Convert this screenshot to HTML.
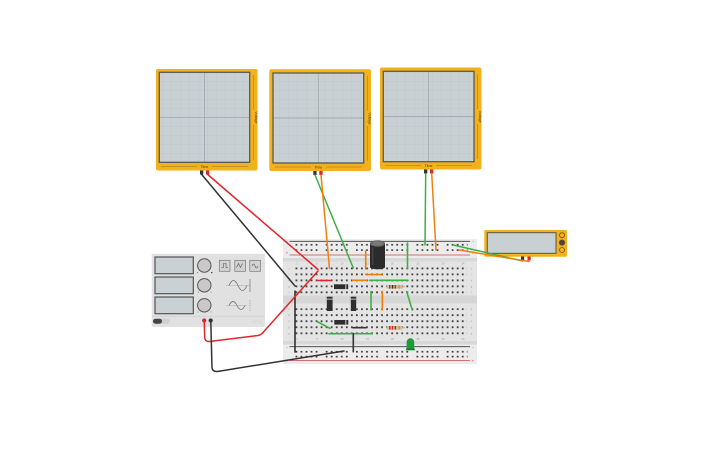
<!DOCTYPE html>
<html><head><meta charset="utf-8"><style>
html,body{margin:0;padding:0;background:#fff;}
svg{display:block;}
</style></head><body>
<svg width="725" height="453" viewBox="0 0 725 453" xmlns="http://www.w3.org/2000/svg" font-family="Liberation Sans, sans-serif">
<defs>
<pattern id="grid" patternUnits="userSpaceOnUse" width="9" height="9">
<path d="M0,0 H9 M0,0 V9" stroke="#b7c0c4" stroke-width="0.5" fill="none"/>
</pattern>
<pattern id="h1" patternUnits="userSpaceOnUse" x="295.5" y="267.5" width="5.04" height="5.98">
<rect x="0" y="0" width="1.8" height="1.8" fill="#3c3c3c"/>
</pattern>
<pattern id="h2" patternUnits="userSpaceOnUse" x="295.5" y="308.2" width="5.04" height="6.05">
<rect x="0" y="0" width="1.8" height="1.8" fill="#3c3c3c"/>
</pattern>
<pattern id="r1" patternUnits="userSpaceOnUse" x="295.5" y="243.8" width="30.24" height="5.5">
<rect x="0" y="0" width="1.8" height="1.8" fill="#3c3c3c"/>
<rect x="5.04" y="0" width="1.8" height="1.8" fill="#3c3c3c"/>
<rect x="10.08" y="0" width="1.8" height="1.8" fill="#3c3c3c"/>
<rect x="15.12" y="0" width="1.8" height="1.8" fill="#3c3c3c"/>
<rect x="20.16" y="0" width="1.8" height="1.8" fill="#3c3c3c"/>
</pattern>
<pattern id="r2" patternUnits="userSpaceOnUse" x="295.5" y="350.8" width="30.24" height="5.0">
<rect x="0" y="0" width="1.8" height="1.8" fill="#3c3c3c"/>
<rect x="5.04" y="0" width="1.8" height="1.8" fill="#3c3c3c"/>
<rect x="10.08" y="0" width="1.8" height="1.8" fill="#3c3c3c"/>
<rect x="15.12" y="0" width="1.8" height="1.8" fill="#3c3c3c"/>
<rect x="20.16" y="0" width="1.8" height="1.8" fill="#3c3c3c"/>
</pattern>
</defs>

<!-- ===== Oscilloscope 1 ===== -->
<rect x="156" y="69" width="101.5" height="101.5" rx="2" fill="#f3b11b"/>
<rect x="159.3" y="72.3" width="90.4" height="90" fill="#c9d0d3"/>
<rect x="159.3" y="72.3" width="90.4" height="90" fill="url(#grid)"/>
<line x1="204.5" y1="72.3" x2="204.5" y2="162.3" stroke="#99a3a7" stroke-width="0.7"/>
<line x1="159.3" y1="117.3" x2="249.7" y2="117.3" stroke="#99a3a7" stroke-width="0.7"/>
<rect x="159.3" y="72.3" width="90.4" height="90" fill="none" stroke="#595959" stroke-width="1.3"/>
<line x1="253.5" y1="75" x2="253.5" y2="110" stroke="#9c7416" stroke-width="0.5"/>
<line x1="253.5" y1="125" x2="253.5" y2="160" stroke="#9c7416" stroke-width="0.5"/>
<text x="254.8" y="117.5" font-size="3.6" fill="#4a3a10" text-anchor="middle" transform="rotate(90 254.8 117.5)">Voltage</text>
<line x1="161" y1="166.5" x2="197" y2="166.5" stroke="#9c7416" stroke-width="0.5"/>
<line x1="212" y1="166.5" x2="248" y2="166.5" stroke="#9c7416" stroke-width="0.5"/>
<text x="204.5" y="167.8" font-size="3.6" fill="#4a3a10" text-anchor="middle">Time</text>
<rect x="200" y="170.5" width="3.3" height="4" fill="#333"/>
<rect x="206" y="170.5" width="3.3" height="4" fill="#d62a2a"/>

<!-- ===== Oscilloscope 2 ===== -->
<rect x="269.3" y="69.3" width="101.7" height="101.7" rx="2" fill="#f3b11b"/>
<rect x="273" y="73" width="90.7" height="90" fill="#c9d0d3"/>
<rect x="273" y="73" width="90.7" height="90" fill="url(#grid)"/>
<line x1="318.3" y1="73" x2="318.3" y2="163" stroke="#99a3a7" stroke-width="0.7"/>
<line x1="273" y1="118" x2="363.7" y2="118" stroke="#99a3a7" stroke-width="0.7"/>
<rect x="273" y="73" width="90.7" height="90" fill="none" stroke="#595959" stroke-width="1.3"/>
<line x1="367.3" y1="76" x2="367.3" y2="111" stroke="#9c7416" stroke-width="0.5"/>
<line x1="367.3" y1="126" x2="367.3" y2="161" stroke="#9c7416" stroke-width="0.5"/>
<text x="368.6" y="118.5" font-size="3.6" fill="#4a3a10" text-anchor="middle" transform="rotate(90 368.6 118.5)">Voltage</text>
<line x1="275" y1="167" x2="311" y2="167" stroke="#9c7416" stroke-width="0.5"/>
<line x1="326" y1="167" x2="362" y2="167" stroke="#9c7416" stroke-width="0.5"/>
<text x="318.3" y="168.3" font-size="3.6" fill="#4a3a10" text-anchor="middle">Time</text>
<rect x="313.3" y="171" width="3.3" height="4" fill="#333"/>
<rect x="319.3" y="171" width="3.3" height="4" fill="#d62a2a"/>

<!-- ===== Oscilloscope 3 ===== -->
<rect x="380" y="67.5" width="101.5" height="102" rx="2" fill="#f3b11b"/>
<rect x="383.3" y="71.3" width="90.7" height="90.4" fill="#c9d0d3"/>
<rect x="383.3" y="71.3" width="90.7" height="90.4" fill="url(#grid)"/>
<line x1="428.6" y1="71.3" x2="428.6" y2="161.7" stroke="#99a3a7" stroke-width="0.7"/>
<line x1="383.3" y1="116.5" x2="474" y2="116.5" stroke="#99a3a7" stroke-width="0.7"/>
<rect x="383.3" y="71.3" width="90.7" height="90.4" fill="none" stroke="#595959" stroke-width="1.3"/>
<line x1="477.7" y1="74" x2="477.7" y2="109" stroke="#9c7416" stroke-width="0.5"/>
<line x1="477.7" y1="124" x2="477.7" y2="159" stroke="#9c7416" stroke-width="0.5"/>
<text x="479" y="116.8" font-size="3.6" fill="#4a3a10" text-anchor="middle" transform="rotate(90 479 116.8)">Voltage</text>
<line x1="385" y1="165.7" x2="421" y2="165.7" stroke="#9c7416" stroke-width="0.5"/>
<line x1="436" y1="165.7" x2="472" y2="165.7" stroke="#9c7416" stroke-width="0.5"/>
<text x="428.6" y="167" font-size="3.6" fill="#4a3a10" text-anchor="middle">Time</text>
<rect x="424" y="169.5" width="3.3" height="4" fill="#333"/>
<rect x="430" y="169.5" width="3.3" height="4" fill="#d62a2a"/>

<!-- ===== Breadboard ===== -->
<rect x="283" y="239" width="194" height="125" fill="#e4e4e4"/>
<rect x="283" y="239" width="194" height="19" fill="#ececec"/>
<rect x="283" y="258" width="194" height="3.5" fill="#d8d8d8"/>
<rect x="283" y="295.5" width="194" height="8" fill="#d6d6d6"/>
<rect x="283" y="341" width="194" height="3.5" fill="#d8d8d8"/>
<rect x="283" y="344.5" width="194" height="19.5" fill="#ececec"/>
<!-- rail lines -->
<line x1="289.5" y1="241.3" x2="470" y2="241.3" stroke="#3a3a3a" stroke-width="0.8"/>
<line x1="289.5" y1="255" x2="470" y2="255" stroke="#d04545" stroke-width="0.8"/>
<line x1="289.5" y1="346.7" x2="470" y2="346.7" stroke="#3a3a3a" stroke-width="0.8"/>
<line x1="289.5" y1="360.5" x2="470" y2="360.5" stroke="#d04545" stroke-width="0.8"/>
<text x="287" y="254.5" font-size="4.5" fill="#d04545" text-anchor="middle">+</text>
<text x="287" y="243" font-size="4.5" fill="#555" text-anchor="middle">-</text>
<text x="473" y="243" font-size="4.5" fill="#555" text-anchor="middle">-</text>
<text x="473" y="254.5" font-size="4.5" fill="#d04545" text-anchor="middle">+</text>
<text x="287" y="349" font-size="4.5" fill="#555" text-anchor="middle">-</text>
<text x="287" y="362.5" font-size="4.5" fill="#d04545" text-anchor="middle">+</text>
<text x="473" y="349" font-size="4.5" fill="#555" text-anchor="middle">-</text>
<text x="473" y="362.5" font-size="4.5" fill="#d04545" text-anchor="middle">+</text>
<!-- holes -->
<rect x="295.5" y="243.8" width="172" height="7.2" fill="url(#r1)"/>
<rect x="295.5" y="350.8" width="172" height="6.8" fill="url(#r2)"/>
<rect x="295.5" y="267.5" width="171.4" height="29.5" fill="url(#h1)"/>
<rect x="295.5" y="308.2" width="171.4" height="29.8" fill="url(#h2)"/>
<!-- column / row labels -->
<g font-size="2.6" fill="#9a9a9a" text-anchor="middle">
<text x="297" y="264.5">1</text><text x="317" y="264.5">5</text><text x="342" y="264.5">10</text><text x="367.5" y="264.5">15</text><text x="392.5" y="264.5">20</text><text x="418" y="264.5">25</text><text x="443" y="264.5">30</text><text x="463" y="264.5">34</text>
<text x="297" y="340">1</text><text x="317" y="340">5</text><text x="342" y="340">10</text><text x="367.5" y="340">15</text><text x="392.5" y="340">20</text><text x="418" y="340">25</text><text x="443" y="340">30</text><text x="463" y="340">34</text>
<text x="289" y="269.5">j</text><text x="289" y="275.5">i</text><text x="289" y="281.5">h</text><text x="289" y="287.5">g</text><text x="289" y="293.5">f</text>
<text x="289" y="310">e</text><text x="289" y="316">d</text><text x="289" y="322">c</text><text x="289" y="328.5">b</text><text x="289" y="334.5">a</text>
<text x="471.5" y="269.5">j</text><text x="471.5" y="275.5">i</text><text x="471.5" y="281.5">h</text><text x="471.5" y="287.5">g</text><text x="471.5" y="293.5">f</text>
<text x="471.5" y="310">e</text><text x="471.5" y="316">d</text><text x="471.5" y="322">c</text><text x="471.5" y="328.5">b</text><text x="471.5" y="334.5">a</text>
</g>

<!-- breadboard parts -->
<g stroke-linecap="round" fill="none" stroke-width="1.6">
<line x1="295" y1="291" x2="295" y2="352" stroke="#333"/>
<line x1="317" y1="280.5" x2="331" y2="280.5" stroke="#e0262b"/>
<line x1="317.3" y1="321.7" x2="330" y2="328.3" stroke="#3cb043"/>
<line x1="353" y1="327.7" x2="366" y2="327.7" stroke="#333"/>
<line x1="329" y1="333.7" x2="372" y2="333.7" stroke="#3cb043"/>
<line x1="353.3" y1="333.7" x2="353.3" y2="351.7" stroke="#333"/>
<line x1="352.5" y1="280.3" x2="366.7" y2="280.3" stroke="#f07f0c"/>
<line x1="365.5" y1="274.5" x2="382" y2="274.5" stroke="#f07f0c"/>
<line x1="365.7" y1="251" x2="365.7" y2="269" stroke="#f07f0c"/>
<line x1="369.5" y1="280.3" x2="408" y2="280.3" stroke="#3cb043"/>
<line x1="371" y1="291.5" x2="371" y2="310" stroke="#3cb043"/>
<line x1="407.5" y1="243" x2="407.5" y2="268" stroke="#3cb043"/>
<line x1="382.3" y1="291.5" x2="382.3" y2="310" stroke="#f07f0c"/>
<line x1="406.7" y1="291.7" x2="412.3" y2="310" stroke="#3cb043"/>
</g>
<!-- diodes -->
<rect x="334" y="284.3" width="14.2" height="4.8" fill="#2e2e2e"/>
<rect x="345" y="284.3" width="1.5" height="4.8" fill="#9a9a9a"/>
<rect x="334.3" y="320" width="14" height="4.6" fill="#2e2e2e"/>
<rect x="345" y="320" width="1.5" height="4.6" fill="#9a9a9a"/>
<rect x="326.8" y="296.7" width="5.8" height="14.3" fill="#2e2e2e"/>
<rect x="326.8" y="298.5" width="5.8" height="1.4" fill="#9a9a9a"/>
<rect x="350.8" y="296.7" width="5.4" height="14.3" fill="#2e2e2e"/>
<rect x="350.8" y="298.5" width="5.4" height="1.4" fill="#9a9a9a"/>
<!-- capacitor -->
<rect x="370" y="242" width="15" height="26" rx="2" fill="#2b2b2b"/>
<ellipse cx="377.5" cy="267" rx="7.5" ry="2.3" fill="#2b2b2b"/>
<ellipse cx="377.5" cy="243.5" rx="7.5" ry="3.2" fill="#6a6a6a"/>
<ellipse cx="377.5" cy="243.5" rx="5.5" ry="2" fill="#7a7a7a"/>
<rect x="372" y="247" width="1.3" height="18" fill="#454545"/>
<!-- resistors -->
<g>
<rect x="386.7" y="285" width="16" height="3.6" rx="1.6" fill="#d8b98c"/>
<rect x="389" y="285" width="1.5" height="3.6" fill="#e0262b"/>
<rect x="391.8" y="285" width="1.5" height="3.6" fill="#333"/>
<rect x="394.6" y="285" width="1.5" height="3.6" fill="#8a4a1a"/>
<rect x="398.6" y="285" width="1.3" height="3.6" fill="#c69a3a"/>
<line x1="402.7" y1="286.8" x2="405" y2="286.8" stroke="#999" stroke-width="0.6"/>
</g>
<g>
<rect x="386.7" y="326" width="16" height="3.6" rx="1.6" fill="#d8b98c"/>
<rect x="389" y="326" width="1.5" height="3.6" fill="#e0262b"/>
<rect x="391.8" y="326" width="1.5" height="3.6" fill="#e0262b"/>
<rect x="394.6" y="326" width="1.5" height="3.6" fill="#8a4a1a"/>
<rect x="398.6" y="326" width="1.3" height="3.6" fill="#c69a3a"/>
<line x1="402.7" y1="327.8" x2="405" y2="327.8" stroke="#999" stroke-width="0.6"/>
</g>
<!-- LED -->
<path d="M406.6,350 V342 A3.8,3.8 0 0 1 414.2,342 V350 Z" fill="#1f9a3a"/>
<rect x="406" y="348.5" width="8.8" height="1.8" fill="#17802e"/>

<!-- ===== Function generator ===== -->
<rect x="151.7" y="253.7" width="113.3" height="73.3" rx="1" fill="#e1e1e1"/>
<line x1="151.7" y1="316.3" x2="265" y2="316.3" stroke="#d2d2d2" stroke-width="0.8"/>
<rect x="155" y="257" width="38.3" height="16.7" fill="#c9d1d4" stroke="#555" stroke-width="1.2"/>
<rect x="155" y="277" width="38.3" height="16.7" fill="#c9d1d4" stroke="#555" stroke-width="1.2"/>
<rect x="155" y="297" width="38.3" height="16.7" fill="#c9d1d4" stroke="#555" stroke-width="1.2"/>
<circle cx="204.3" cy="265.5" r="6.7" fill="#c9c9c9" stroke="#555" stroke-width="1"/>
<circle cx="204.3" cy="285.3" r="6.7" fill="#c9c9c9" stroke="#555" stroke-width="1"/>
<circle cx="204.3" cy="305.3" r="6.7" fill="#c9c9c9" stroke="#555" stroke-width="1"/>
<g fill="#888"><rect x="197" y="272" width="1" height="1"/><rect x="211" y="272" width="1.4" height="1.2" fill="#444"/><rect x="198" y="291.5" width="1" height="1"/><rect x="210.5" y="291.5" width="1" height="1"/><rect x="197.5" y="311.5" width="1" height="1"/><rect x="210.5" y="311.5" width="1" height="1"/></g>
<rect x="219.3" y="260.3" width="10.7" height="11" fill="#d2d2d2" stroke="#777" stroke-width="0.7"/>
<rect x="234.8" y="260.3" width="10.7" height="11" fill="#d2d2d2" stroke="#777" stroke-width="0.7"/>
<rect x="249.8" y="260.3" width="10.7" height="11" fill="#d2d2d2" stroke="#777" stroke-width="0.7"/>
<g fill="none" stroke="#555" stroke-width="0.6">
<path d="M221.5,267.5 H223.5 V263.5 H226 V267.5 H228"/>
<path d="M236.5,267.5 L238.5,263.5 L240.5,267.5 L242.5,263.5"/>
<path d="M252,266 Q253.5,262 255,266 Q256.5,270 258,266"/>
<path d="M229,285.5 Q233.5,275.5 238,285.5 T247,285.5" stroke="#666" stroke-width="0.7"/>
<line x1="226" y1="285.5" x2="250" y2="285.5" stroke="#999" stroke-width="0.4"/>
<line x1="250" y1="279" x2="250" y2="292" stroke="#666" stroke-width="0.6"/>
<path d="M229,305.5 Q233,297.5 237,305.5 T245,305.5" stroke="#666" stroke-width="0.7"/>
<line x1="226" y1="305.5" x2="247" y2="305.5" stroke="#999" stroke-width="0.4"/>
<line x1="250" y1="300" x2="250" y2="311" stroke="#888" stroke-width="0.6" stroke-dasharray="1.2,1.2"/>
</g>
<rect x="153" y="318.7" width="17" height="5" rx="2.5" fill="#cfcfcf"/>
<rect x="153" y="318.7" width="9" height="5" rx="2.5" fill="#444"/>
<text x="257" y="323" font-size="3.2" fill="#cfcfcf" text-anchor="middle">235 Ag</text>
<circle cx="204.2" cy="320.5" r="2.1" fill="#d42a2a"/>
<circle cx="210.7" cy="320.5" r="2.1" fill="#333"/>

<!-- ===== Multimeter ===== -->
<rect x="484.3" y="230" width="82.7" height="26.7" rx="1.5" fill="#f3b11b"/>
<rect x="487.3" y="232.7" width="68.7" height="20.6" fill="#c9d0d3" stroke="#555" stroke-width="1"/>
<circle cx="562" cy="235.2" r="2.5" fill="#f3b11b" stroke="#6a5020" stroke-width="0.8"/>
<circle cx="562" cy="242.6" r="2.7" fill="#444" stroke="#6a5020" stroke-width="0.8"/>
<circle cx="562" cy="250" r="2.5" fill="#f3b11b" stroke="#6a5020" stroke-width="0.8"/>
<rect x="521" y="256.5" width="3.2" height="4" fill="#333"/>
<rect x="527.5" y="256.5" width="3.2" height="4" fill="#d62a2a"/>

<!-- ===== Long wires ===== -->
<g fill="none" stroke-width="1.5" stroke-linecap="round" stroke-linejoin="round">
<line x1="201.7" y1="174.5" x2="295" y2="286" stroke="#333"/>
<line x1="207.7" y1="174.5" x2="318" y2="269.5" stroke="#e0262b"/>
<line x1="315" y1="175" x2="353.3" y2="268" stroke="#3cb043"/>
<line x1="321" y1="175" x2="329.5" y2="268.5" stroke="#f07f0c"/>
<line x1="425.7" y1="173.5" x2="425" y2="245" stroke="#3cb043"/>
<line x1="431.7" y1="173.5" x2="436" y2="250" stroke="#f07f0c"/>
<line x1="453.3" y1="245" x2="522.6" y2="261" stroke="#3cb043"/>
<line x1="459" y1="250" x2="529" y2="261.5" stroke="#f07f0c"/>
<path d="M204.3,322 L204.7,337.5 Q205,341.8 209.5,341.5 L258,335.5 Q261,335 263,332.5 L318,271" stroke="#e0262b"/>
<path d="M210.8,322 L212,367.5 Q212.5,372 217.5,371.5 L344,351" stroke="#333"/>
</g>
</svg>
</body></html>
